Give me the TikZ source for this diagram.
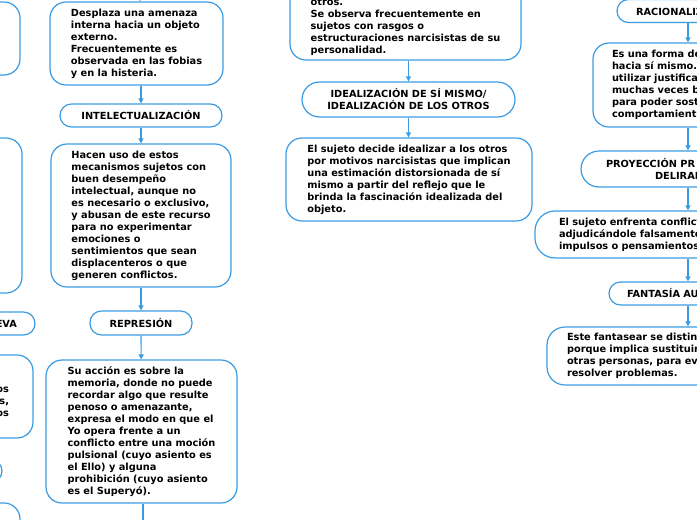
\documentclass[tikz,border=0pt]{standalone}
\usepackage{fontspec}
\setmainfont{DejaVu Sans}
\usepackage{tikz}
\usetikzlibrary{
  arrows.meta,
  positioning,
  calc
}
\definecolor{mapblue}{HTML}{3A9BE3}

\begin{document}
\begin{tikzpicture}[x=1pt, y=-1pt,
  card/.style={draw=mapblue, line width=1.2pt, text=black, inner ysep=0pt,
               font=\fontsize{9.8}{12}\selectfont\bfseries},
  tbox/.style={card, rounded corners=16pt, align=left},
  pill/.style={card, rounded corners=#1, align=center},
  pill/.default=11.5pt,
  arrow/.style={-{Triangle[length=5pt,width=5pt]}, line width=1.2pt, mapblue},
]
  \useasboundingbox (0,0) rectangle (697,520);
  \clip (0,0) rectangle (697,520);

  % Left column (cut off)
  \node[tbox, minimum width=160pt, minimum height=73pt] (a1) at (-60,38.5) {};
  \node[tbox, minimum width=160pt, minimum height=155pt] (a2) at (-58,215.5) {};
  \node[pill, minimum width=140pt, minimum height=23pt, text width=104pt, align=right]
    (a3) at (-35,323.5) {EVA};
  \node[tbox, minimum width=160pt, minimum height=83pt, text width=112pt, align=right]
    (a4) at (-47,396.5) {\strut\\\strut\\os\\s,\\os\\\strut};
  \node[pill, minimum width=120pt, minimum height=23pt] (a5) at (-58,471) {};
  \node[tbox, minimum width=160pt, minimum height=100pt] (a6) at (-60,553) {};

  % Second column
  \node[tbox, minimum width=173pt, minimum height=83pt] (b1) at (136.5,43.5)
    {Desplaza una amenaza\\interna hacia un objeto\\externo.\\Frecuentemente es\\observada en las fobias\\y en la histeria.};
  \node[pill, minimum width=162pt, minimum height=23pt] (b2) at (141,115.5)
    {INTELECTUALIZACIÓN};
  \node[tbox, minimum width=180pt, minimum height=143pt] (b3) at (141,215.5)
    {Hacen uso de estos\\mecanismos sujetos con\\buen desempeño\\intelectual, aunque no\\es necesario o exclusivo,\\y abusan de este recurso\\para no experimentar\\emociones o\\sentimientos que sean\\displacenteros o que\\generen conflictos.};
  \node[pill, minimum width=102pt, minimum height=24pt] (b4) at (141,323)
    {REPRESIÓN};
  \node[tbox, minimum width=191pt, minimum height=143pt] (b5) at (141.5,431.5)
    {Su acción es sobre la\\memoria, donde no puede\\recordar algo que resulte\\penoso o amenazante,\\expresa el modo en que el\\Yo opera frente a un\\conflicto entre una moción\\pulsional (cuyo asiento es\\el Ello) y alguna\\prohibición (cuyo asiento\\es el Superyó).};

  \coordinate (btop) at (140,-20);
  \coordinate (bbot) at (143,560);
  \draw[arrow] (btop) -- (btop |- b1.north);
  \draw[arrow] (b1.south -| b2.north) -- (b2.north);
  \draw[arrow] (b2) -- (b3);
  \draw[arrow] (b3) -- (b4);
  \draw[arrow] (b4) -- (b5);
  \draw[arrow] (b5.south -| bbot) -- (bbot);

  % Middle column
  \node[tbox, minimum width=231pt, minimum height=92pt] (c1) at (405.5,14)
    {\strut\\\strut\\otros.\\Se observa frecuentemente en\\sujetos con rasgos o\\estructuraciones narcisistas de su\\personalidad.};
  \node[pill=17.5pt, minimum width=213pt, minimum height=35pt] (c2) at (408.5,99.5)
    {IDEALIZACIÓN DE SÍ MISMO/\\IDEALIZACIÓN DE LOS OTROS};
  \node[tbox, minimum width=246pt, minimum height=83pt] (c3) at (409,179.5)
    {El sujeto decide idealizar a los otros\\por motivos narcisistas que implican\\una estimación distorsionada de sí\\mismo a partir del reflejo que le\\brinda la fascinación idealizada del\\objeto.};

  \draw[arrow] (c1.south -| c2.north) -- (c2.north);
  \draw[arrow] (c2.south) -- (c2.south |- c3.north);

  % Right column (cut off)
  \node[pill, minimum width=300pt, minimum height=23pt, text width=262pt, align=left]
    (d1) at (767,11) {RACIONALIZACIÓN};
  \node[tbox, minimum width=300pt, minimum height=84pt, text width=262pt]
    (d2) at (743,85) {Es una forma de\\hacia sí mismo.\\utilizar justificaciones\\muchas veces b\\para poder sostener\\comportamiento};
  \node[pill=18pt, minimum width=300pt, minimum height=36pt, text width=250pt, align=left]
    (d3) at (731,169) {PROYECCIÓN PR\\\hspace*{49pt}DELIRANTE};
  \node[tbox, rounded corners=20pt, minimum width=320pt, minimum height=47pt, text width=272pt]
    (d4) at (695,234.5) {El sujeto enfrenta conflictos\\adjudicándole falsamente\\impulsos o pensamientos};
  \node[pill, minimum width=300pt, minimum height=23pt, text width=264pt, align=left]
    (d5) at (759,293.5) {FANTASÍA AUTISTA};
  \node[tbox, rounded corners=18pt, minimum width=320pt, minimum height=58pt, text width=280pt]
    (d6) at (707,356) {Este fantasear se distingue\\porque implica sustituir\\otras personas, para evitar\\resolver problemas.};

  \coordinate (dx) at (688,0);
  \draw[arrow] (d1.south -| dx) -- (d2.north -| dx);
  \draw[arrow] (d2.south -| dx) -- (d3.north -| dx);
  \draw[arrow] (d3.south -| dx) -- (d4.north -| dx);
  \draw[arrow] (d4.south -| dx) -- (d5.north -| dx);
  \draw[arrow] (d5.south -| dx) -- (d6.north -| dx);
\end{tikzpicture}
\end{document}
